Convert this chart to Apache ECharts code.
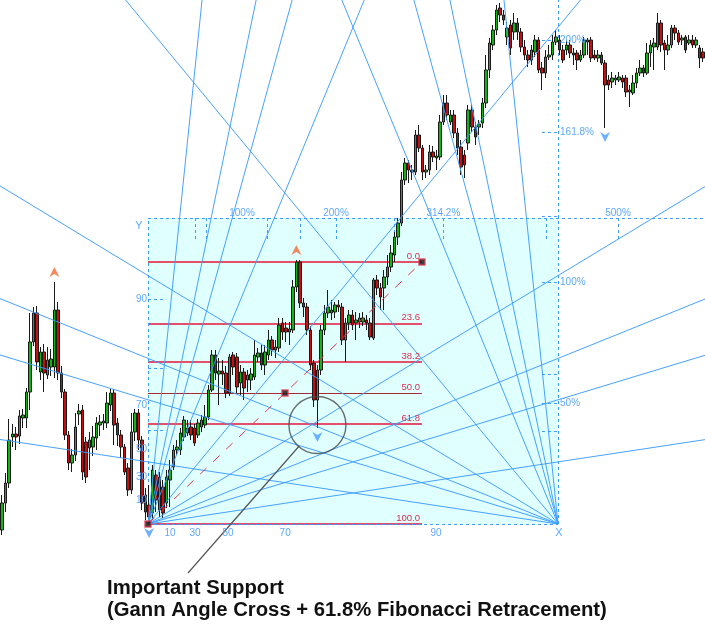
<!DOCTYPE html>
<html><head><meta charset="utf-8">
<script src="https://cdn.jsdelivr.net/npm/echarts@6/dist/echarts.min.js"></script>
<style>html,body{margin:0;padding:0;background:#fff;overflow:hidden}#c{width:705px;height:627px}</style>
</head><body><div id="c"></div>
<script>
// ---- candle data: [open, close, low, high] (price points) ----
const candles = [
[470,497,465,505],[497,517,488,527],[517,560,512,581],[563,566,553,576],[566,563,550,573],
[564,584,556,590],[582,585,572,591],[582,608,572,612],[608,658,590,687],[658,687,654,693],
[687,638,630,694],[628,648,620,653],[648,627,608,656],[625,640,621,653],[633,641,624,651],
[633,690,622,718],[690,627,620,698],[627,608,602,634],[608,565,560,611],[565,537,530,569],
[537,545,528,551],[545,573,539,587],[586,589,575,596],[590,528,520,595],[558,523,517,563],
[552,560,530,568],[553,563,544,574],[562,577,550,583],[575,578,564,585],[577,579,570,586],
[577,597,572,608],[595,607,589,611],[607,575,555,611],[577,565,554,582],[565,553,542,570],
[553,528,525,556],[532,510,504,537],[510,568,506,587],[568,587,559,591],[587,560,550,591],
[560,497,490,564],[505,488,480,512],[495,483,476,515],[487,530,480,535],[525,500,488,530],
[490,523,483,528],[513,487,482,520],[497,523,492,530],[520,530,493,540],[533,550,530,555],
[550,553,545,560],[550,567,545,572],[563,580,559,584],[567,572,564,580],[573,565,560,580],
[572,557,554,576],[565,577,562,581],[573,580,568,585],[575,583,572,595],[583,610,580,615],
[610,645,608,650],[645,627,620,650],[626,629,595,642],[629,626,615,640],[627,607,602,634],
[607,643,604,646],[645,633,625,648],[643,613,607,647],[617,628,605,635],[628,612,600,632],
[620,625,608,630],[620,626,610,632],[623,645,620,660],[643,647,638,652],[647,635,630,655],
[635,648,625,655],[645,660,640,670],[660,650,644,664],[650,653,642,660],[652,675,648,682],
[677,668,660,682],[672,668,658,678],[668,671,655,678],[670,713,667,720],[713,738,708,740],
[738,697,692,740],[697,693,683,702],[693,670,665,697],[670,635,630,674],[637,600,593,640],
[600,630,572,635],[630,670,625,675],[670,687,665,695],[687,693,682,710],[687,690,680,700],
[688,695,682,698],[695,693,688,700],[693,660,655,697],[660,677,638,682],[677,685,670,690],
[685,675,670,690],[677,680,660,688],[678,682,672,687],[678,682,674,688],[680,677,670,685],
[677,663,660,682],[662,720,660,722],[720,712,705,725],[712,703,690,717],[712,723,690,730],
[723,733,715,745],[733,747,728,755],[745,763,738,768],[763,777,755,782],[777,820,774,828],
[820,837,815,842],[837,830,817,840],[828,830,820,835],[828,865,825,870],[865,852,848,875],
[852,828,820,855],[828,830,822,835],[830,848,825,855],[848,843,838,854],[842,844,830,850],
[843,878,840,885],[878,897,875,905],[897,885,880,905],[878,885,875,890],[885,867,862,890],
[867,852,845,872],[853,833,825,860],[845,835,822,850],[857,890,850,895],[890,873,868,895],
[873,863,855,878],[873,876,865,880],[877,897,872,902],[897,930,892,945],[930,957,922,962],
[955,970,950,975],[970,990,965,995],[992,985,978,997],[985,980,975,990],[963,972,955,978],
[975,952,945,980],[968,977,960,987],[977,968,960,982],[968,953,948,972],[953,945,940,960],
[945,940,933,950],[940,950,935,955],[948,960,943,965],[960,930,927,963],[932,927,910,938],
[927,943,922,950],[943,945,940,955],[945,958,940,965],[958,963,955,970],[960,950,945,965],
[950,940,937,955],[950,955,945,960],[955,947,942,960],[947,945,935,952],[947,940,930,950],
[940,945,938,950],[945,960,942,963],[958,960,945,962],[960,942,938,963],[945,942,940,950],
[942,945,938,950],[945,937,935,948],[937,915,872,940],[920,915,910,925],[918,922,912,928],
[920,922,915,925],[920,923,918,928],[922,918,912,925],[922,908,903,925],[908,910,893,915],
[907,917,905,925],[917,927,912,932],[927,932,924,940],[932,927,923,935],[927,947,925,957],
[947,955,933,960],[953,957,930,962],[953,977,950,987],[977,955,948,980],[957,950,930,960],
[950,955,945,965],[955,972,952,975],[972,967,960,975],[967,958,955,970],[960,962,955,965],
[963,950,947,965],[957,960,955,965],[960,955,952,965],[955,960,952,963],[952,942,932,955],
[948,942,938,952]
];
const categories = candles.map((_, i) => 'Bar ' + (i + 1));

// fractal markers (bar indices)
const fractalHighs = [15, 84, 141];
const fractalLows = [42, 90, 172];

// Fibonacci retracement
const fibLevels = [0, 23.6, 38.2, 50, 61.8, 100];
const fibLabels = ['0.0', '23.6', '38.2', '50.0', '61.8', '100.0'];
const fibHighPrice = 738, fibLowPrice = 476, fibEndBar = 119.8;

// Gann box / fan
const gannOriginBar = 41.7, gannOriginPrice = 476;
const gannEndBar = 158.6, gannTopPrice = 782;
const gannSlope = 4.25;                 // 1x1 : price points per bar
const gannRatios = [8, 4, 3, 2, 1, 1/2, 1/3, 1/4, 1/8];
const gannUnitBars = 26.8, gannUnitPrice = 242;
const gannTopRatios = [1, 2, 3.142, 5];
const gannTopTexts = ['100%', '200%', '314.2%', '500%'];
const gannTopTicks = [0.5, 0.618, 1.272, 1.618, 2, 2.618, 3.142, 4.236, 5];
const gannRightRatios = [0.5, 1, 1.618, 2];
const gannRightTexts = ['50%', '100%', '161.8%', '200%'];
const gannRightTicks = [0.382, 0.5, 0.618, 1, 1.272, 1.618, 2];
const gannLeftTexts = ['10', '30', '50', '70', '90'];
const gannLeftOffsets = [24, 47, 75, 119, 225];      // price points above origin
const gannBottomTexts = ['10', '30', '50', '70', '90'];
const gannBottomOffsets = [6.3, 13.4, 22.8, 39.1, 82.1]; // bars right of origin
const gannLeftTicks = [94, 156, 225];

// annotation
const circleBar = 90, circlePrice = 575;
const pointerFrom = [84.8, 554], pointerTo = [53.1, 427];
const noteLines = ['Important Support', '(Gann Angle Cross + 61.8% Fibonacci Retracement)'];

// ---------------------------------------------------------------
const N = candles.length;
const XMIN = -0.5, XMAX = N - 0.5, VMIN = 373, VMAX = 1000;
const BLUE = '#3d9cff';
const chart = echarts.init(document.getElementById('c'), null, {renderer: 'canvas'});

const fan = [];
gannRatios.forEach(r => {
  const s = gannSlope * r;
  let x2 = XMAX, v2 = gannOriginPrice + s * (XMAX - gannOriginBar);
  if (v2 > VMAX) { v2 = VMAX; x2 = gannOriginBar + (VMAX - gannOriginPrice) / s; }
  fan.push({coords: [[gannOriginBar, gannOriginPrice], [x2, v2]]});
  let x3 = XMIN, v3 = gannOriginPrice + s * (gannEndBar - XMIN);
  if (v3 > VMAX) { v3 = VMAX; x3 = gannEndBar - (VMAX - gannOriginPrice) / s; }
  fan.push({coords: [[gannEndBar, gannOriginPrice], [x3, v3]]});
});

const dotted = [
  {coords: [[gannOriginBar, gannOriginPrice], [gannOriginBar, gannTopPrice]]},
  {coords: [[gannOriginBar, gannTopPrice], [XMAX, gannTopPrice]]},
  {coords: [[gannEndBar, gannOriginPrice], [gannEndBar, VMAX]]},
  {coords: [[gannOriginBar, gannOriginPrice], [gannEndBar, gannOriginPrice]]}
];
gannTopTicks.forEach(r => {
  const x = gannOriginBar + r * gannUnitBars;
  dotted.push({coords: [[x, gannTopPrice], [x, gannTopPrice - 22]]});
});
gannRightTicks.forEach(r => {
  const v = gannOriginPrice + r * gannUnitPrice;
  dotted.push({coords: [[gannEndBar - 4.6, v], [gannEndBar, v]]});
});
gannLeftTicks.forEach(o => {
  const v = gannOriginPrice + o;
  dotted.push({coords: [[gannOriginBar, v], [gannOriginBar + 5.2, v]]});
});

const fibPrice = l => fibHighPrice - (fibHighPrice - fibLowPrice) * l / 100;
const fibLines = fibLevels.map((l, k) => ({
  coords: [[gannOriginBar, fibPrice(l)], [fibEndBar, fibPrice(l)]],
  lineStyle: l === 50 ? {color: '#a8283a', width: 1.2} : {color: '#e4506c', width: 1.8}
}));

const midBar = (gannOriginBar + fibEndBar) / 2, midPrice = (fibLowPrice + fibHighPrice) / 2;

const option = {
  animation: false,
  backgroundColor: '#fff',
  grid: {left: 0, right: 0, top: 0, bottom: 0, containLabel: false, outerBoundsMode: 'none'},
  xAxis: [
    {type: 'category', data: categories, show: false, boundaryGap: true},
    {type: 'value', min: XMIN, max: XMAX, show: false}
  ],
  yAxis: [{type: 'value', min: VMIN, max: VMAX, show: false, splitLine: {show: false}}],
  series: [
    {type: 'line', xAxisIndex: 1, data: [], silent: true, z: 1,
     markArea: {silent: true, itemStyle: {color: '#e0ffff'},
       data: [[{coord: [gannOriginBar, gannOriginPrice]}, {coord: [gannEndBar, gannTopPrice]}]]}},
    {type: 'lines', coordinateSystem: 'cartesian2d', xAxisIndex: 1, yAxisIndex: 0, silent: true, z: 2,
     lineStyle: {opacity: 1}, data: fibLines},
    {type: 'lines', coordinateSystem: 'cartesian2d', xAxisIndex: 1, yAxisIndex: 0, silent: true, z: 2,
     lineStyle: {color: BLUE, width: 1, type: [3, 3], opacity: 1}, data: dotted},
    {type: 'candlestick', xAxisIndex: 0, data: candles, barWidth: 3, z: 3, silent: true,
     itemStyle: {color: '#12b412', color0: '#c41010', borderColor: '#1a1a1a', borderColor0: '#1a1a1a', borderWidth: 1}},
    {type: 'lines', coordinateSystem: 'cartesian2d', xAxisIndex: 1, yAxisIndex: 0, silent: true, z: 4,
     lineStyle: {color: BLUE, width: 1, opacity: 0.95}, data: fan},
    {type: 'lines', coordinateSystem: 'cartesian2d', xAxisIndex: 1, yAxisIndex: 0, silent: true, z: 5,
     lineStyle: {color: '#e2384e', width: 1, type: [9, 9], opacity: 1},
     data: [{coords: [[gannOriginBar, fibLowPrice], [fibEndBar, fibHighPrice]]}]},
    {type: 'scatter', xAxisIndex: 1, silent: true, z: 6, symbol: 'rect', symbolSize: 6,
     itemStyle: {color: '#111', borderColor: '#e2384e', borderWidth: 1.5},
     data: [[gannOriginBar, fibLowPrice], [midBar, midPrice], [fibEndBar, fibHighPrice]]},
    {type: 'scatter', xAxisIndex: 1, silent: true, z: 6, symbol: 'circle', symbolSize: 57,
     itemStyle: {color: 'rgba(0,0,0,0)', borderColor: '#4a4a4a', borderWidth: 1.4},
     data: [[circleBar, circlePrice]]},
    {type: 'lines', coordinateSystem: 'cartesian2d', xAxisIndex: 1, yAxisIndex: 0, silent: true, z: 6,
     lineStyle: {color: '#555', width: 1.2, opacity: 1},
     data: [{coords: [pointerFrom, pointerTo]}]},
    {type: 'scatter', xAxisIndex: 1, silent: true, z: 7,
     symbol: 'path://M5,0 L10,10 L5,7 L0,10 Z', symbolSize: [10, 10], symbolOffset: [0, -10],
     itemStyle: {color: '#f26a36'},
     data: fractalHighs.map(i => [i, candles[i][3]])},
    {type: 'scatter', xAxisIndex: 1, silent: true, z: 7,
     symbol: 'path://M0,0 L5,3 L10,0 L5,10 Z', symbolSize: [10, 10], symbolOffset: [0, 9],
     itemStyle: {color: '#4b9dff'},
     data: fractalLows.map(i => [i, candles[i][2]])}
  ]
};
chart.setOption(option);

// ---- text annotations positioned through the axes ----
const P = (b, v) => chart.convertToPixel({xAxisIndex: 1, yAxisIndex: 0}, [b, v]);
const g = [];
const blueFont = '10px "Liberation Sans", Arial, sans-serif';
function txt(pt, text, align, vAlign, font, fill) {
  g.push({type: 'text', x: pt[0], y: pt[1], z: 100, silent: true,
    style: {text, align, verticalAlign: vAlign, font, fill}});
}
gannTopRatios.forEach((r, k) => {
  const p = P(gannOriginBar + r * gannUnitBars, gannTopPrice);
  txt([p[0], p[1] - 5], gannTopTexts[k], 'center', 'middle', blueFont, '#5ea8ff');
});
gannRightRatios.forEach((r, k) => {
  const p = P(gannEndBar, gannOriginPrice + r * gannUnitPrice);
  txt([p[0] + 2, p[1]], gannRightTexts[k], 'left', 'middle', blueFont, '#5ea8ff');
});
gannLeftTexts.forEach((t, k) => {
  const p = P(gannOriginBar, gannOriginPrice + gannLeftOffsets[k]);
  txt([p[0] - 1, p[1]], t, 'right', 'middle', blueFont, '#5ea8ff');
});
gannBottomTexts.forEach((t, k) => {
  const p = P(gannOriginBar + gannBottomOffsets[k], gannOriginPrice);
  txt([p[0], p[1] + 9], t, 'center', 'middle', blueFont, '#5ea8ff');
});
{
  const o = P(gannOriginBar, gannTopPrice);
  txt([o[0] - 9, o[1] + 8], 'Y', 'center', 'middle', '11px "Liberation Sans", Arial, sans-serif', '#5ea8ff');
  const x = P(gannEndBar, gannOriginPrice);
  txt([x[0] + 1, x[1] + 9], 'X', 'center', 'middle', '11px "Liberation Sans", Arial, sans-serif', '#5ea8ff');
}
fibLevels.forEach((l, k) => {
  const p = P(fibEndBar, fibPrice(l));
  txt([p[0] - 2, p[1] - 6], fibLabels[k], 'right', 'middle', '9.5px "Liberation Sans", Arial, sans-serif', '#d8304e');
});
{
  const p = P(pointerTo[0], pointerTo[1]);
  const fnt = 'bold 20.3px "Liberation Sans", Arial, sans-serif';
  txt([p[0] - 81, p[1] + 5], noteLines[0], 'left', 'top', fnt, '#111');
  txt([p[0] - 81, p[1] + 27], noteLines[1], 'left', 'top', fnt, '#111');
}
chart.setOption({graphic: g});
</script>
</body></html>
